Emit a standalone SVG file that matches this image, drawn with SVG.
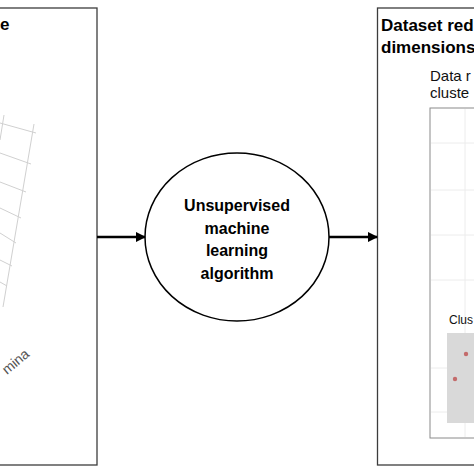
<svg xmlns="http://www.w3.org/2000/svg" width="474" height="474" viewBox="0 0 474 474">
<defs>
<style>
.box{fill:#fff;stroke:#3c3c3c;stroke-width:1.3}
.hd{font-family:"Liberation Sans",Arial,sans-serif;font-weight:bold;font-size:17px;fill:#000}
.tx{font-family:"Liberation Sans",Arial,sans-serif;font-size:15px;fill:#111}
.ell{font-family:"Liberation Sans",Arial,sans-serif;font-weight:bold;font-size:16px;fill:#000;text-anchor:middle}
.grid{stroke:#d0d0d0;stroke-width:1;fill:none}
.pg{stroke:#ececec;stroke-width:1}
.conn{stroke:#000;stroke-width:2.6;fill:none}
</style>
<marker id="ah" viewBox="0 0 10 10" refX="9" refY="5" markerWidth="4" markerHeight="4" orient="auto" markerUnits="strokeWidth">
<path d="M0,0 L10,5 L0,10 z" fill="#000"/>
</marker>
</defs>
<rect width="474" height="474" fill="#fff"/>

<g id="input-box">
<rect class="box" x="-10" y="8" width="107" height="457"/>
<text class="hd" x="0" y="30">e</text>
<g class="grid">
<line x1="34" y1="124" x2="3" y2="307"/>
<line x1="4" y1="115" x2="0" y2="140"/>
<line x1="0" y1="123" x2="36" y2="133"/>
<line x1="0" y1="153" x2="31" y2="164"/>
<line x1="0" y1="182" x2="26" y2="192"/>
<line x1="0" y1="208" x2="21" y2="218"/>
<line x1="0" y1="233" x2="16" y2="243"/>
<line x1="0" y1="260" x2="12" y2="266"/>
<line x1="0" y1="282" x2="7" y2="286"/>
</g>
<text x="7" y="375" transform="rotate(-40 7 375)" font-family="'Liberation Sans',Arial,sans-serif" font-size="14" fill="#555">mina</text>
</g>

<g id="algorithm">
<ellipse cx="237" cy="237" rx="92" ry="84" fill="#fff" stroke="#000" stroke-width="1.5"/>
<text class="ell" x="237" y="211">Unsupervised</text>
<text class="ell" x="237" y="233.5">machine</text>
<text class="ell" x="237" y="256">learning</text>
<text class="ell" x="237" y="278.5">algorithm</text>
</g>

<g id="output-box">
<rect class="box" x="377.5" y="8" width="110" height="457"/>
<text class="hd" x="381" y="31">Dataset red</text>
<text class="hd" x="381" y="53">dimensions</text>
<text class="tx" x="430" y="81">Data r</text>
<text class="tx" x="430" y="98">cluste</text>
<rect x="430" y="108" width="60" height="330" fill="#fff" stroke="#8a8a8a" stroke-width="1"/>
<g class="pg">
<line x1="465" y1="109" x2="465" y2="437"/>
<line x1="431" y1="143" x2="474" y2="143"/>
<line x1="431" y1="190" x2="474" y2="190"/>
<line x1="431" y1="235" x2="474" y2="235"/>
<line x1="431" y1="280" x2="474" y2="280"/>
<line x1="431" y1="368" x2="474" y2="368"/>
<line x1="431" y1="412" x2="474" y2="412"/>
</g>
<text x="449" y="324" font-family="'Liberation Sans',Arial,sans-serif" font-size="12" fill="#111">Clus</text>
<rect x="447" y="333" width="40" height="90" fill="#d9d9d9"/>
<circle cx="466" cy="354" r="2.2" fill="#c46b6b"/>
<circle cx="455" cy="379" r="2.2" fill="#c46b6b"/>
</g>

<g id="connectors">
<line class="conn" x1="97" y1="237" x2="145" y2="237" marker-end="url(#ah)"/>
<line class="conn" x1="329" y1="237" x2="377" y2="237" marker-end="url(#ah)"/>
</g>
</svg>
